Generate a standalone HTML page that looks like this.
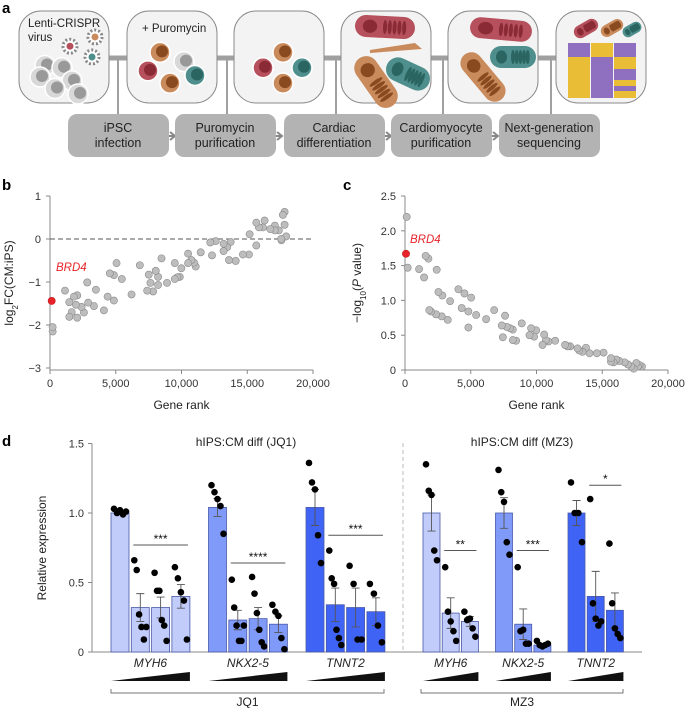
<!DOCTYPE html>
<html><head><meta charset="utf-8"><style>
body{margin:0;background:#fff;font-family:"Liberation Sans",sans-serif}
svg text{font-family:"Liberation Sans",sans-serif}
</style></head><body>
<svg id="fig" width="685" height="708" viewBox="0 0 685 708" xmlns="http://www.w3.org/2000/svg">
<g id="pa"></g>
<g id="pb"></g>
<g id="pc"></g>
<g id="pd"></g>
<text x="2" y="13" font-size="15" font-weight="bold">a</text>
<text x="2" y="190" font-size="15" font-weight="bold">b</text>
<text x="343" y="190" font-size="15" font-weight="bold">c</text>
<text x="2" y="446" font-size="15" font-weight="bold">d</text>
</svg>
<script>
const NS='http://www.w3.org/2000/svg';
function mk(p,tag,a,txt){const e=document.createElementNS(NS,tag);for(const k in a)e.setAttribute(k,a[k]);if(txt!==undefined)e.textContent=txt;p.appendChild(e);return e;}

// ---------- Panel a ----------
const stepLabels=[["iPSC","infection"],["Puromycin","purification"],["Cardiac","differentiation"],["Cardiomyocyte","purification"],["Next-generation","sequencing"]];
const pa=document.getElementById('pa');
const topX=[19,127,234,341,448,556];
const lowX=[68,175,284,391,499];
const vX=[118,227,336,443,551];
const S=0.77;
let ln=mk(pa,'line',{x1:100,y1:58,x2:565,y2:58,stroke:'#a0a0a0','stroke-width':5});

vX.forEach(x=>{const v=mk(pa,'line',{x1:x,y1:58,x2:x,y2:115,stroke:'#a0a0a0','stroke-width':2});
});
topX.forEach((x,i)=>{const r=mk(pa,'rect',{x:x,y:11,width:90,height:92,rx:22,fill:'#f3f3f3',stroke:'#8a8a8a','stroke-width':1});
});
lowX.forEach((x,i)=>{const r=mk(pa,'rect',{x:x,y:114,width:101,height:43,rx:9,fill:'#b3b3b3'});

const t=mk(pa,'text',{x:x+50,y:132,'font-size':12.5,'text-anchor':'middle',fill:'#222'});

mk(t,'tspan',{x:x+50,dy:0},stepLabels[i][0]);mk(t,'tspan',{x:x+50,dy:15},stepLabels[i][1]);
if(i<4){const ar=mk(pa,'path',{d:`M${x+101} 136 h5 m-4 -4 l5 4 l-5 4`,stroke:'#888','stroke-width':2,fill:'none'});
}});
function cell(p,cx,cy,r,f,n){cy=cy*S;mk(p,'circle',{cx,cy,r,fill:f,stroke:'#fff','stroke-width':1.5});mk(p,'circle',{cx:cx+2,cy:cy-1,r:r*0.6,fill:n});}
const g=mk(pa,'g',{});
let t1=mk(g,'text',{x:28,y:27,'font-size':11.5,fill:'#222'},'Lenti-CRISPR');
t1=mk(g,'text',{x:28,y:41,'font-size':11.5,fill:'#222'},'virus');
[[45,85],[40,100],[62,88],[72,105],[55,115],[78,122]].forEach(c=>cell(g,c[0],c[1],10,'#d8d8d8','#999'));
[[70,60,'#b5505c'],[95,48,'#c98a5c'],[92,74,'#4e8e8c']].forEach(c=>{mk(g,'circle',{cx:c[0],cy:c[1]*S,r:7,fill:'#fff',stroke:'#888','stroke-width':3,'stroke-dasharray':'2 2'});mk(g,'circle',{cx:c[0],cy:c[1]*S,r:3.5,fill:c[2]});});
t1=mk(g,'text',{x:142,y:32,'font-size':11.5,fill:'#222'},'+ Puromycin');
cell(g,160,68,10,'#c98a5c','#8a4a20');cell(g,184,80,10,'#d8d8d8','#999');cell(g,148,92,10,'#b5505c','#8a2a35');cell(g,170,108,10,'#c98a5c','#8a4a20');cell(g,195,98,10,'#4e8e8c','#2a6562');
cell(g,283,68,10,'#c98a5c','#8a4a20');cell(g,263,88,10,'#b5505c','#8a2a35');cell(g,302,88,10,'#4e8e8c','#2a6562');cell(g,283,108,10,'#c98a5c','#8a4a20');
function cm(p,x,y,w,h,rot,f,n){const gg=mk(p,'g',{transform:`rotate(${rot} ${x+w/2} ${y+h/2})`});mk(gg,'rect',{x,y,width:w,height:h,rx:h/2,fill:f});mk(gg,'ellipse',{cx:x+w*0.25,cy:y+h/2,rx:w*0.12,ry:h*0.3,fill:n});for(let i=0;i<5;i++)mk(gg,'ellipse',{cx:x+w*0.5+i*w*0.08,cy:y+h/2,rx:2,ry:h*0.32,fill:n});}
cm(g,355,16,60,22,3,'#b5505c','#8a2a35');mk(g,'path',{d:'M370 50 L415 43 L422 49 L370 53 Z',fill:'#c98a5c'});
cm(g,347,70,58,24,55,'#c98a5c','#8a4a20');cm(g,385,62,46,24,25,'#4e8e8c','#2a6562');
cm(g,470,19,62,21,5,'#b5505c','#8a2a35');cm(g,490,46,46,22,0,'#4e8e8c','#2a6562');cm(g,454,66,58,22,50,'#c98a5c','#8a4a20');
cm(g,573,22,26,13,-30,'#b5505c','#8a2a35');cm(g,600,22,24,12,-30,'#c98a5c','#8a4a20');cm(g,622,24,20,11,-30,'#4e8e8c','#2a6562');
const P='#8f6fc0',Y='#e9be36';
[[568,[[43,57,P],[57,98,Y]]],[591,[[43,57,Y],[57,98,P]]],[614,[[43,57,P],[57,69,Y],[69,80,P],[80,86,Y],[86,91,P],[91,98,Y]]]].forEach(c=>c[1].forEach(s=>mk(g,'rect',{x:c[0],y:s[0],width:22,height:s[1]-s[0],fill:s[2]})));

// ---------- Panel b ----------
const bRank=[127,200,200,1140,1470,1470,1650,1820,1970,2070,2070,2400,2580,2830,2900,3340,3490,4100,4380,4550,4860,4860,5060,5460,6200,6830,7390,7510,7640,7840,8040,8220,8220,8480,8900,9490,9490,9690,9870,9990,10500,10500,10750,10950,11080,11460,12190,12320,12600,13200,13200,13480,13740,13610,14120,14670,15130,15180,15690,15690,15890,16320,16190,16750,17100,17100,17400,17580,17600,17710,17840,17840,17960];
const bFC=[-1.44,-2.05,-2.15,-1.2,-1.47,-1.81,-1.7,-1.34,-1.53,-1.31,-1.83,-1.58,-1.71,-1.01,-1.48,-1.56,-1.18,-1.66,-1.34,-0.8,-0.84,-1.43,-0.56,-0.93,-1.29,-0.61,-1.2,-0.83,-1.02,-1.22,-0.74,-0.88,-1.07,-0.45,-1.02,-0.93,-0.56,-0.89,-0.88,-0.68,-0.34,-0.56,-0.49,-0.55,-0.64,-0.31,-0.08,-0.38,-0.05,-0.28,-0.11,-0.19,-0.07,-0.49,-0.51,-0.36,-0.36,0.11,-0.15,0.38,0.27,0.43,0.27,0.23,0.2,0.31,0.2,0,-0.03,0.56,0.63,0.33,0.06];
const xTicks=[0,5000,10000,15000,20000];
const xTickLabels=['0','5,000','10,000','15,000','20,000'];
const bYTicks=[1,0,-1,-2,-3];
const cP=[1.67,2.2,1.47,1.45,1.33,1.64,1.6,0.86,0.84,1.44,1.12,0.8,1.07,0.77,0.72,0.99,1.16,0.89,1.1,0.84,0.61,1.04,0.79,0.73,0.86,0.64,0.47,0.78,0.62,0.6,0.58,0.43,0.42,0.67,0.5,0.6,0.48,0.57,0.36,0.51,0.43,0.41,0.42,0.36,0.34,0.34,0.31,0.28,0.26,0.32,0.24,0.24,0.25,0.17,0.12,0.11,0.15,0.13,0.11,0.08,0.05,0.02,0.1,0.05,0.07,0.05];
const cRank=[76,127,203,1070,1450,1570,1780,1850,1980,2410,2540,2360,2840,2790,3250,3430,4060,4310,4520,4820,4820,5030,5410,6170,6780,7360,7440,7610,7740,7990,8200,8200,8450,8880,9470,9590,9820,9970,10460,10580,10710,10910,11420,12180,12360,12560,13120,13250,13500,13760,14030,14590,15100,15660,15660,15860,16070,16290,16700,16950,17210,17390,17590,17710,17840,18020];
const cYTicks=[0,0.5,1,1.5,2,2.5];
const cYTickLabels=['0','0.5','1.0','1.5','2.0','2.5'];

function scatter(pid,rank,val,x0,x1,yv0,yp0,yv1,yp1,yt,ytl,ylab,labY,lblPos){
 const p=document.getElementById(pid);
 const X=v=>x0+(v/20000)*(x1-x0), Y=v=>yp0+(v-yv0)/(yv1-yv0)*(yp1-yp0);
 const yb=370;
 let a=mk(p,'line',{x1:x0,y1:Math.min(Y(yt[0]),Y(yt[yt.length-1])),x2:x0,y2:yb,stroke:'#888','stroke-width':1});
 
 a=mk(p,'line',{x1:x0,y1:yb,x2:x1,y2:yb,stroke:'#888','stroke-width':1});
 
 xTicks.forEach((t,i)=>{mk(p,'line',{x1:X(t),y1:yb,x2:X(t),y2:yb+4,stroke:'#888'});
  const tl=mk(p,'text',{x:X(t),y:yb+17,'font-size':11,'text-anchor':'middle',fill:'#333'},xTickLabels[i]);
  });
 yt.forEach((t,i)=>{mk(p,'line',{x1:x0-4,y1:Y(t),x2:x0,y2:Y(t),stroke:'#888'});
  const tl=mk(p,'text',{x:x0-9,y:Y(t)+4,'font-size':11,'text-anchor':'end',fill:'#333'},ytl[i]);
  });
 const xt=mk(p,'text',{x:(x0+x1)/2,y:409,'font-size':12,'text-anchor':'middle',fill:'#222'},'Gene rank');
 
 const ytt=mk(p,'text',{x:0,y:0,'font-size':12,'text-anchor':'middle',fill:'#222',transform:`translate(${labY[0]},${labY[1]}) rotate(-90)`});
 ytt.innerHTML=ylab;
 if(pid==='pb'){const d=mk(p,'line',{x1:x0,y1:Y(0),x2:x1,y2:Y(0),stroke:'#555','stroke-dasharray':'5 3'});}
 for(let i=rank.length-1;i>=0;i--){const c=mk(p,'circle',{cx:X(rank[i]),cy:Y(val[i]),r:3.6,fill:i===0?'#e8242a':'#bdbdbd',stroke:i===0?'#c01818':'#8a8a8a','stroke-width':0.6});
  }
 const bl=mk(p,'text',{x:lblPos[0],y:lblPos[1],'font-size':11.5,'font-style':'italic',fill:'#e8242a'},'BRD4');
 
}
scatter('pb',bRank,bFC,50,313,0,239,1,196,bYTicks,['1','0','−1','−2','−3'],'log<tspan baseline-shift="sub" font-size="8">2</tspan>FC(CM:iPS)',[13,283],[56,271]);
scatter('pc',cRank,cP,405,668,0,370,2.5,196,cYTickLabels.map(Number),cYTickLabels,'−log<tspan baseline-shift="sub" font-size="8">10</tspan>(<tspan font-style="italic">P</tspan> value)',[361,283],[410,243]);

// ---------- Panel d ----------
const groups=['MYH6','NKX2-5','TNNT2','MYH6','NKX2-5','TNNT2'];
const jq1Means=[[1.0,0.32,0.32,0.40],[1.04,0.23,0.24,0.20],[1.04,0.34,0.32,0.29]];
const jq1Err=[[0.01,0.1,0.075,0.085],[0.065,0.07,0.08,0.06],[0.13,0.12,0.14,0.1]];
const jq1Dots=[[[1.03,1.0,1.02,0.99,1.01],[0.66,0.59,0.27,0.18,0.09,0.18],[0.57,0.44,0.44,0.23,0.19,0.08],[0.61,0.53,0.43,0.37,0.09]],
[[1.2,1.15,1.10,1.05,0.85],[0.52,0.32,0.19,0.08,0.08,0.19],[0.54,0.42,0.28,0.16,0.07,0.04],[0.34,0.29,0.26,0.10,0.02]],
[[1.36,1.22,1.17,0.84,0.64],[0.73,0.53,0.49,0.16,0.10,0.05],[0.62,0.49,0.09,0.09],[0.49,0.42,0.19,0.07]]];
const mz3Means=[[1.0,0.28,0.22],[1.0,0.2,0.05],[1.0,0.4,0.3]];
const mz3Err=[[0.13,0.11,0.035],[0.11,0.11,0.01],[0.09,0.18,0.125]];
const mz3Dots=[[[1.35,1.16,1.13,0.73,0.66],[0.61,0.29,0.22,0.15,0.08],[0.29,0.23,0.24,0.17,0.11]],
[[1.31,1.15,1.08,0.79,0.70],[0.61,0.15,0.16,0.06,0.06],[0.08,0.05,0.04,0.05,0.06]],
[[1.22,1.0,1.0,0.79],[1.1,0.35,0.24,0.19,0.22],[0.78,0.35,0.17,0.13,0.10]]];
const sigLabels=['***','****','***','**','***','*'];
const sigY=[0.77,0.64,0.84,0.73,0.73,1.2];
const dYTicks=[0,0.5,1.0,1.5];
const dYTickLabels=['0','0.5','1.0','1.5'];
const colors=['#c2ccfb','#7f9af8','#3f63f4'];
const pd=document.getElementById('pd');
const DY=v=>652-v*139;
const DX=(set,gi,bi)=>set===0?111+gi*97.5+bi*20.3:423+gi*72.5+bi*19.2;
let ax=mk(pd,'line',{x1:92,y1:DY(1.5),x2:92,y2:652,stroke:'#888'});
ax=mk(pd,'line',{x1:92,y1:652,x2:642,y2:652,stroke:'#888'});
dYTicks.forEach((t,i)=>{mk(pd,'line',{x1:88,y1:DY(t),x2:92,y2:DY(t),stroke:'#888'});
 const tl=mk(pd,'text',{x:84,y:DY(t)+4,'font-size':11,'text-anchor':'end',fill:'#333'},dYTickLabels[i]);
 });
let yt=mk(pd,'text',{'font-size':12,'text-anchor':'middle',fill:'#222',transform:'translate(46,548) rotate(-90)'},'Relative expression');

let dv=mk(pd,'line',{x1:403,y1:443,x2:403,y2:652,stroke:'#bbb','stroke-dasharray':'4 3'});
let tt=mk(pd,'text',{x:246,y:446,'font-size':12,'text-anchor':'middle',fill:'#222'},'hIPS:CM diff (JQ1)');
tt=mk(pd,'text',{x:522,y:446,'font-size':12,'text-anchor':'middle',fill:'#222'},'hIPS:CM diff (MZ3)');
function drawSet(set,means,errs,dots){
 const bw=set===0?18:17;
 means.forEach((gm,gi)=>{
  gm.forEach((m,bi)=>{
   const x=DX(set,gi,bi);
   const r=mk(pd,'rect',{x,y:DY(m),width:bw,height:DY(0)-DY(m),fill:colors[gi],stroke:'#4a5aa8','stroke-width':0.8});
   
   const cx=x+bw/2,e=errs[gi][bi];
   const eb=mk(pd,'path',{d:`M${cx} ${DY(m+e)} V${DY(m-e)} M${cx-4} ${DY(m+e)} h8 M${cx-4} ${DY(m-e)} h8`,stroke:'#555','stroke-width':0.9,fill:'none'});
   
   const ds=dots[gi][bi];
   ds.forEach((v,k)=>{const off=ds.length>1?(k/(ds.length-1)-0.5)*(bw-6):0;
    const c=mk(pd,'circle',{cx:cx+off,cy:DY(v),r:3.3,fill:'#000'});
    });
  });
  const first=DX(set,gi,0),last=DX(set,gi,gm.length-1)+bw;
  const lbl=mk(pd,'text',{x:(first+last)/2,y:667,'font-size':12,'font-style':'italic','text-anchor':'middle',fill:'#222'},groups[set*3+gi]);
  
  const w=mk(pd,'path',{d:`M${first} 681 L${last} 672 L${last} 681 Z`,fill:'#111'});
  
  const si=set*3+gi,sx0=DX(set,gi,1)+2,sx1=last-2;
  const sl=mk(pd,'line',{x1:sx0,y1:DY(sigY[si]),x2:sx1,y2:DY(sigY[si]),stroke:'#555'});
  
  const st=mk(pd,'text',{x:(sx0+sx1)/2,y:DY(sigY[si])-2,'font-size':12,'text-anchor':'middle',fill:'#111'},sigLabels[si]);
  
 });
}
drawSet(0,jq1Means,jq1Err,jq1Dots);
drawSet(1,mz3Means,mz3Err,mz3Dots);
[[111,384,'JQ1'],[421,623,'MZ3']].forEach(b=>{
 const br=mk(pd,'path',{d:`M${b[0]} 689 V693 H${b[1]} V689`,stroke:'#777',fill:'none'});
 
 const t=mk(pd,'text',{x:(b[0]+b[1])/2,y:706,'font-size':12,'text-anchor':'middle',fill:'#222'},b[2]);
 });
</script>
</body></html>
